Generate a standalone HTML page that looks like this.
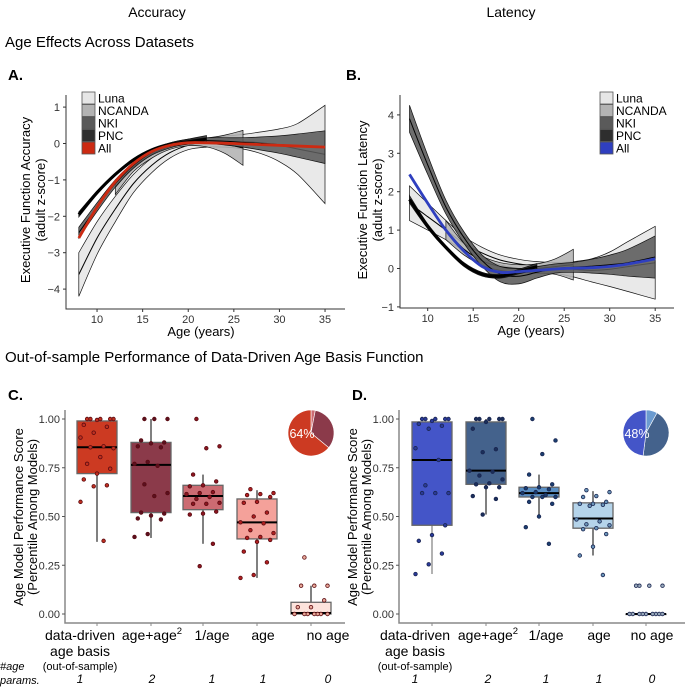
<!DOCTYPE html>
<html><head><meta charset="utf-8">
<style>
html,body{margin:0;padding:0;background:#fff;}
svg{display:block;font-family:"Liberation Sans",Arial,sans-serif;}
</style></head>
<body>
<svg id="fig" width="685" height="700" viewBox="0 0 685 700">
<text x="157" y="17" font-size="14" text-anchor="middle">Accuracy</text>
<text x="511" y="17" font-size="14" text-anchor="middle">Latency</text>
<text x="5" y="47" font-size="15">Age Effects Across Datasets</text>
<text x="5" y="362" font-size="15">Out-of-sample Performance of Data-Driven Age Basis Function</text>
<text x="8" y="80" font-size="15" font-weight="bold">A.</text>
<text x="346" y="80" font-size="15" font-weight="bold">B.</text>
<text x="8" y="400" font-size="15" font-weight="bold">C.</text>
<text x="352" y="400" font-size="15" font-weight="bold">D.</text>
<g id="gA"></g>
<g id="gB"></g>
<g id="gC"></g>
<g id="gD"></g>
</svg>
<script>
// ---- Panel A data (accuracy) ----
const gridAges = [8,10,12,14,16,18,20,22,24,26,28,30,32,35];
const ncAges = [12,14,16,18,20,22,24,26];
const pncAges = [8,10,12,14,16,18,20,22];
const allAges = [8,10,12,14,16,18,20,22,25,28,31,35];
const accLunaMean = [-3.6,-2.6,-1.8,-1.1,-0.6,-0.25,-0.05,0.02,0.05,0.05,0.02,-0.05,-0.15,-0.3];
const accLunaHW = [0.6,0.45,0.35,0.25,0.2,0.15,0.12,0.12,0.15,0.2,0.3,0.45,0.7,1.35];
const accNcMean = [-1.2,-0.65,-0.3,-0.08,0.02,0.03,-0.02,-0.12];
const accNcHW = [0.2,0.12,0.1,0.08,0.08,0.12,0.25,0.48];
const accNkiMean = [-2.45,-1.75,-1.1,-0.6,-0.25,-0.05,0.05,0.08,0.06,0.03,0.0,-0.03,-0.06,-0.1];
const accNkiHW = [0.15,0.12,0.1,0.08,0.07,0.07,0.07,0.08,0.1,0.13,0.18,0.24,0.32,0.45];
const accPncMean = [-1.95,-1.35,-0.85,-0.45,-0.18,-0.03,0.05,0.12];
const accPncHW = [0.07,0.05,0.04,0.04,0.04,0.05,0.07,0.1];
const accAllMean = [-2.6,-1.75,-1.05,-0.55,-0.22,-0.05,0.02,0.02,0.0,-0.03,-0.06,-0.1];
const accYTicks = [1,0,-1,-2,-3,-4];
const ageTicks = [10,15,20,25,30,35];
// ---- Panel B data (latency) ----
const latLunaMean = [1.7,1.35,1.0,0.65,0.4,0.22,0.12,0.06,0.02,-0.02,-0.05,-0.02,0.05,0.15];
const latLunaHW = [0.45,0.35,0.25,0.18,0.15,0.13,0.12,0.12,0.14,0.2,0.3,0.45,0.65,0.95];
const latNcMean = [1.0,0.5,0.2,0.05,0.0,0.0,0.05,0.1];
const latNcHW = [0.25,0.15,0.12,0.1,0.1,0.12,0.2,0.4];
const latNkiMean = [3.9,2.7,1.6,0.8,0.2,-0.15,-0.2,-0.1,0.0,0.03,0.06,0.1,0.15,0.3];
const latNkiHW = [0.35,0.25,0.18,0.15,0.15,0.2,0.2,0.15,0.12,0.13,0.18,0.25,0.35,0.55];
const latPncMean = [1.8,1.1,0.55,0.1,-0.15,-0.2,-0.08,0.05];
const latPncHW = [0.1,0.06,0.05,0.05,0.05,0.05,0.06,0.08];
const latAllMean = [2.45,1.7,1.0,0.45,0.05,-0.1,-0.08,-0.05,0.0,0.02,0.08,0.25];
const latYTicks = [4,3,2,1,0,-1];
const legendLabels = ["Luna","NCANDA","NKI","PNC","All"];
// ---- Panels C/D data ----
const categories = ["data-driven","age+age²","1/age","age","no age"];
const nParams = ["1","2","1","1","0"];
const perfTicks = [1.00,0.75,0.50,0.25,0.00];
const cQ1 = [0.72,0.52,0.535,0.385,0];
const cMed = [0.855,0.765,0.605,0.47,0.005];
const cQ3 = [0.99,0.88,0.66,0.59,0.06];
const cLo = [0.37,0.39,0.36,0.185,0];
const cHi = [1.0,1.0,0.715,0.635,0.145];
const cPts = [
 [1,1,1,1,1,0.995,0.97,0.96,0.93,0.905,0.86,0.855,0.85,0.805,0.77,0.745,0.72,0.69,0.66,0.655,0.575,0.375],
 [1,1,1,0.89,0.88,0.875,0.86,0.855,0.78,0.77,0.76,0.665,0.62,0.605,0.52,0.515,0.505,0.49,0.485,0.41,0.395],
 [1,0.86,0.85,0.715,0.68,0.66,0.655,0.625,0.62,0.615,0.6,0.59,0.57,0.565,0.565,0.525,0.515,0.51,0.36,0.245],
 [0.64,0.62,0.615,0.61,0.6,0.575,0.57,0.52,0.5,0.47,0.465,0.43,0.415,0.395,0.39,0.38,0.37,0.32,0.265,0.2,0.185],
 [0.29,0.145,0.145,0.145,0.07,0.035,0.035,0,0,0,0,0,0,0]];
const cPie = [3,33,64];
const dQ1 = [0.455,0.665,0.60,0.44,0];
const dMed = [0.79,0.735,0.62,0.49,0];
const dQ3 = [0.985,0.985,0.65,0.57,0];
const dLo = [0.205,0.51,0.50,0.30,0];
const dHi = [1.0,1.0,0.715,0.63,0];
const dPts = [
 [1,1,1,1,1,0.99,0.975,0.965,0.95,0.85,0.79,0.66,0.62,0.62,0.62,0.455,0.405,0.375,0.31,0.255,0.205],
 [1,1,1,1,1,0.985,0.95,0.845,0.83,0.735,0.73,0.71,0.69,0.67,0.665,0.65,0.65,0.605,0.59,0.51],
 [1,0.89,0.82,0.715,0.665,0.65,0.645,0.64,0.625,0.62,0.61,0.6,0.6,0.6,0.575,0.565,0.5,0.445,0.36],
 [0.635,0.625,0.605,0.6,0.575,0.565,0.565,0.56,0.555,0.485,0.475,0.46,0.455,0.44,0.435,0.41,0.345,0.3,0.2],
 [0.145,0.145,0.145,0.145,0,0,0,0,0,0,0,0,0]];
const dPie = [8,44,48];

const NS="http://www.w3.org/2000/svg";
function mk(parent,tag,attrs,text){const e=document.createElementNS(NS,tag);for(const k in attrs)e.setAttribute(k,attrs[k]);if(text!==undefined)e.textContent=text;parent.appendChild(e);return e;}
function smooth(pts){let d="M"+pts[0][0].toFixed(1)+","+pts[0][1].toFixed(1);
 for(let i=0;i<pts.length-1;i++){const p0=pts[Math.max(0,i-1)],p1=pts[i],p2=pts[i+1],p3=pts[Math.min(pts.length-1,i+2)];
  const c1=[p1[0]+(p2[0]-p0[0])/6,p1[1]+(p2[1]-p0[1])/6],c2=[p2[0]-(p3[0]-p1[0])/6,p2[1]-(p3[1]-p1[1])/6];
  d+="C"+c1.map(v=>v.toFixed(1))+" "+c2.map(v=>v.toFixed(1))+" "+p2[0].toFixed(1)+","+p2[1].toFixed(1);}
 return d;}

function trendPanel(g,cfg){
 const X=a=>cfg.x0+(a-8)*cfg.kx, Y=v=>cfg.y0-v*cfg.ky;
 const ax=mk(g,"path",{d:`M${cfg.axX},${cfg.top}V${cfg.axY}H${cfg.right}`,stroke:"#333",fill:"none","stroke-width":"1"});
 
 
 cfg.yTicks.forEach(t=>{const y=Y(t);
  const tk=mk(g,"line",{x1:cfg.axX-3,x2:cfg.axX,y1:y,y2:y,stroke:"#333"});
  
  
  const lb=mk(g,"text",{x:cfg.axX-6,y:y+4,"font-size":"11","text-anchor":"end",fill:"#333"},t<0?"−"+(-t):String(t));
  
  });
 ageTicks.forEach(t=>{const x=X(t);
  const tk=mk(g,"line",{x1:x,x2:x,y1:cfg.axY,y2:cfg.axY+3,stroke:"#333"});
  
  
  const lb=mk(g,"text",{x:x,y:cfg.axY+14,"font-size":"11","text-anchor":"middle",fill:"#333"},String(t));
  
  });
 const xt=mk(g,"text",{x:cfg.xtX,y:cfg.axY+27,"font-size":"13","text-anchor":"middle"},"Age (years)");
 
 
 const yt=mk(g,"text",{transform:`translate(${cfg.ytX},${cfg.ytY}) rotate(-90)`,"font-size":"13","text-anchor":"middle"});
 
 
 mk(yt,"tspan",{x:0,y:0},cfg.yTitle);mk(yt,"tspan",{x:0,y:15},"(adult z-score)");
 const fills=["#e6e6e6","#b3b3b3","#5a5a5a","#2e2e2e"];
 const names=["band-luna","band-ncanda","band-nki","band-pnc"];
 cfg.bands.forEach((b,i)=>{
  const up=b.ages.map((a,j)=>[X(a),Y(b.mean[j]+b.hw[j])]);
  const lo=b.ages.map((a,j)=>[X(a),Y(b.mean[j]-b.hw[j])]).reverse();
  const d=smooth(up)+"L"+smooth(lo).slice(1)+"Z";
  const p=mk(g,"path",{d:d,fill:fills[i],"fill-opacity":"0.88",stroke:"#111","stroke-width":"0.7"});
  
  
  const m=mk(g,"path",{d:smooth(b.ages.map((a,j)=>[X(a),Y(b.mean[j])])),fill:"none",stroke:"#000","stroke-width":i==3?"3":"1"});
  
  });
 const al=mk(g,"path",{d:smooth(allAges.map((a,j)=>[X(a),Y(cfg.all[j])])),fill:"none",stroke:cfg.allColor,"stroke-width":"2.8"});
 
 
 const lf=fills.concat([cfg.allColor]);
 legendLabels.forEach((l,i)=>{const y=cfg.legY+i*12.5;
  const r=mk(g,"rect",{x:cfg.legX,y:y,width:13,height:12,fill:lf[i],stroke:"#555","stroke-width":"0.8"});
  
  
  const t=mk(g,"text",{x:cfg.legX+16,y:y+10.5,"font-size":"12"},l);
  
  });
}
trendPanel(document.getElementById("gA"),{x0:78.8,kx:9.12,y0:143.5,ky:36.4,axX:66,axY:309,top:95,right:345,
 yTicks:accYTicks,xtX:201,ytX:30,ytY:200,yTitle:"Executive Function Accuracy",allColor:"#cc2a12",legX:82,legY:92,
 bands:[{ages:gridAges,mean:accLunaMean,hw:accLunaHW},{ages:ncAges,mean:accNcMean,hw:accNcHW},{ages:gridAges,mean:accNkiMean,hw:accNkiHW},{ages:pncAges,mean:accPncMean,hw:accPncHW}],all:accAllMean});
trendPanel(document.getElementById("gB"),{x0:409.5,kx:9.1,y0:268.5,ky:38.4,axX:400,axY:308,top:95,right:674,
 yTicks:latYTicks,xtX:531,ytX:367,ytY:200,yTitle:"Executive Function Latency",allColor:"#2f3fbf",legX:600,legY:92,
 bands:[{ages:gridAges,mean:latLunaMean,hw:latLunaHW},{ages:ncAges,mean:latNcMean,hw:latNcHW},{ages:gridAges,mean:latNkiMean,hw:latNkiHW},{ages:pncAges,mean:latPncMean,hw:latPncHW}],all:latAllMean});

function boxPanel(g,cfg){
 const Y=v=>cfg.y0-v*cfg.ky;
 const ax=mk(g,"path",{d:`M${cfg.axX},${cfg.top}V${cfg.axY}H${cfg.right}`,stroke:"#888",fill:"none","stroke-width":"1.5"});
 
 
 perfTicks.forEach(t=>{const y=Y(t);
  const tk=mk(g,"line",{x1:cfg.axX-3,x2:cfg.axX,y1:y,y2:y,stroke:"#555"});
  
  
  const lb=mk(g,"text",{x:cfg.axX-5,y:y+4,"font-size":"11","text-anchor":"end",fill:"#333"},t.toFixed(2));
  
  });
 const yt=mk(g,"text",{transform:`translate(${cfg.ytX},517) rotate(-90)`,"font-size":"13","text-anchor":"middle"});
 
 
 mk(yt,"tspan",{x:0,y:0},"Age Model Performance Score");mk(yt,"tspan",{x:0,y:14},"(Percentile Among Models)");
 categories.forEach((c,i)=>{
  const cx=cfg.cx[i],w=40;
  const tk=mk(g,"line",{x1:cx,x2:cx,y1:cfg.axY,y2:cfg.axY+3,stroke:"#888"});
  
  
  const wh=mk(g,"line",{x1:cx,x2:cx,y1:Y(cfg.hi[i]),y2:Y(cfg.lo[i]),stroke:i==0&&cfg.blue?"#999":"#555","stroke-width":"1.5"});
  
  
  const bx=mk(g,"rect",{x:cx-w/2,y:Y(cfg.q3[i]),width:w,height:Math.max(0.5,Y(cfg.q1[i])-Y(cfg.q3[i])),fill:cfg.fills[i],stroke:"#666","stroke-width":"1.3"});
  
  
  const md=mk(g,"line",{x1:cx-w/2,x2:cx+w/2,y1:Y(cfg.med[i]),y2:Y(cfg.med[i]),stroke:"#000","stroke-width":"2"});
  
  
  cfg.pts[i].forEach((v,j)=>{
   const dx=(((j*7+3)%11)-5)*3.3;
   const pt=mk(g,"circle",{cx:cx+dx,cy:Y(v),r:1.8,fill:cfg.ptFill[i],stroke:cfg.ptStroke,"stroke-width":"0.8"});
   
   });
  const lbl=mk(g,"text",{x:cfg.lx[i],y:640,"font-size":"14","text-anchor":"middle"});
  
  
  if(c==="age+age²"){lbl.textContent="age+age";mk(lbl,"tspan",{dy:"-6","font-size":"9.5"},"2");}else lbl.textContent=c;
  const np=mk(g,"text",{x:cfg.lx[i],y:683,"font-size":"12","font-style":"italic","text-anchor":"middle"},nParams[i]);
  
  
 });
 const l2=mk(g,"text",{x:cfg.lx[0],y:656,"font-size":"14","text-anchor":"middle"},"age basis");
 
 
 const l3=mk(g,"text",{x:cfg.lx[0],y:670,"font-size":"11","text-anchor":"middle"},"(out-of-sample)");
 
 
 // pie
 const pcx=cfg.pie[0],pcy=433,r=23;let ang=0;const tot=cfg.pieVals.reduce((a,b)=>a+b,0);
 cfg.pieVals.forEach((v,i)=>{const a0=ang,a1=ang+v/tot*2*Math.PI;ang=a1;
  const p0=[pcx+r*Math.sin(a0),pcy-r*Math.cos(a0)],p1=[pcx+r*Math.sin(a1),pcy-r*Math.cos(a1)];
  const s=mk(g,"path",{d:`M${pcx},${pcy}L${p0[0]},${p0[1]}A${r},${r} 0 ${a1-a0>Math.PI?1:0} 1 ${p1[0]},${p1[1]}Z`,fill:cfg.pieFills[i],stroke:"#fff","stroke-width":"0.6"});
  
  });
 const pl=mk(g,"text",{x:pcx-9,y:pcy+5,"font-size":"12.5",fill:"#fff","text-anchor":"middle"},cfg.pieVals[2]+"%");
 
 
}
boxPanel(document.getElementById("gC"),{y0:614,ky:195,axX:65,axY:623,top:410,right:345,ytX:23,
 cx:[97,151,203,257,311],lx:[80,152,212,263,328],q1:cQ1,med:cMed,q3:cQ3,lo:cLo,hi:cHi,pts:cPts,
 fills:["#cc3a22","#8b3a4a","#cc6b72","#f4a19a","#fde3dc"],ptFill:["#c03020","#5a1020","#8a1520","#b02020","#e8a898"],ptStroke:"#5a0a10",
 pie:[311],pieVals:cPie,pieFills:["#cc6b72","#8b3a4a","#cc3a22"]});
boxPanel(document.getElementById("gD"),{y0:614,ky:195,axX:399,axY:623,top:410,right:685,ytX:357,blue:true,
 cx:[432,486,539,593,646],lx:[415,488,546,599,652],q1:dQ1,med:dMed,q3:dQ3,lo:dLo,hi:dHi,pts:dPts,
 fills:["#4455c8","#44628c","#5a8fc4","#b5d4ea","#ffffff"],ptFill:["#2a3a9a","#1a2f5a","#1a3f70","#6a95b8","#9ab"],ptStroke:"#1a2550",
 pie:[646],pieVals:dPie,pieFills:["#6b9bd0","#44628c","#4455c8"]});
// #age params row labels
const g0=document.getElementById("fig");
const a1=mk(g0,"text",{x:0,y:670,"font-size":"11","font-style":"italic"},"#age");


const a2=mk(g0,"text",{x:0,y:684,"font-size":"11","font-style":"italic"},"params.");


</script>
</body></html>
